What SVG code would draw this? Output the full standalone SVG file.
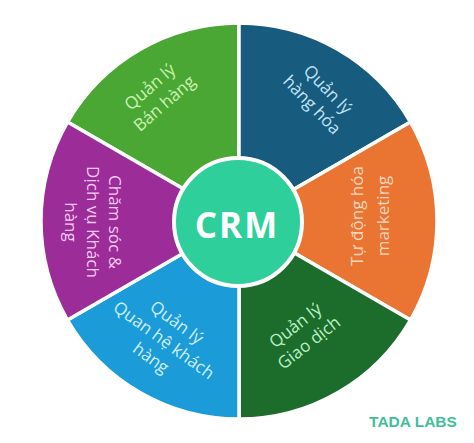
<svg xmlns="http://www.w3.org/2000/svg" width="474" height="443" viewBox="0 0 474 443">
<style>
.seg{stroke:#ffffff;stroke-width:3.5;stroke-linejoin:round}
.lbl{font-family:"Open Sans","Liberation Sans",sans-serif;font-size:17px;text-anchor:middle}
</style>
<rect width="474" height="443" fill="#ffffff"/>
<g id="connectors"></g>
<g id="seg-banhang">
<path class="seg" fill="#4ba733" d="M239,221 L67.5,122 A198,198 0 0 1 239,23 Z"/>
<g transform="translate(157,95) rotate(-41)" class="lbl" fill="#caf2b2">
<text x="0" y="-5">Quản lý</text>
<text x="0" y="17">Bán hàng</text>
</g>
</g>
<g id="seg-hanghoa">
<path class="seg" fill="#175b7f" d="M239,221 L239,23 A198,198 0 0 1 410.5,122 Z"/>
<g transform="translate(320,97) rotate(46)" class="lbl" fill="#c0e4f5">
<text x="0" y="-5">Quản lý</text>
<text x="0" y="17">hàng hóa</text>
</g>
</g>
<g id="seg-marketing">
<path class="seg" fill="#ea7431" d="M239,221 L410.5,122 A198,198 0 0 1 410.5,320 Z"/>
<g transform="translate(370,216) rotate(-90)" class="lbl" fill="#fbd7be">
<text x="0" y="-7">Tự động hóa</text>
<text x="0" y="19">marketing</text>
</g>
</g>
<g id="seg-giaodich">
<path class="seg" fill="#1c6d2b" d="M239,221 L410.5,320 A198,198 0 0 1 239,419 Z"/>
<g transform="translate(302,334) rotate(-38)" class="lbl" fill="#b8f0c6">
<text x="0" y="-5">Quản lý</text>
<text x="0" y="17">Giao dịch</text>
</g>
</g>
<g id="seg-quanhe">
<path class="seg" fill="#1b9bd7" d="M239,221 L239,419 A198,198 0 0 1 67.5,320 Z"/>
<g transform="translate(164,340) rotate(36)" class="lbl" fill="#cdeefa">
<text x="0" y="-16">Quản lý</text>
<text x="0" y="6">Quan hệ khách</text>
<text x="0" y="28">hàng</text>
</g>
</g>
<g id="seg-chamsoc">
<path class="seg" fill="#9c2c98" d="M239,221 L67.5,320 A198,198 0 0 1 67.5,122 Z"/>
<g transform="translate(93,222) rotate(90)" class="lbl" fill="#f5cbf2">
<text x="0" y="-16">Chăm sóc &amp;</text>
<text x="0" y="6">Dịch vụ Khách</text>
<text x="0" y="28">hàng</text>
</g>
</g>
<g id="crm">
<circle cx="238" cy="222" r="64" fill="#2ecf9b" stroke="#ffffff" stroke-width="4"/>
<text x="237" y="238" font-family="Open Sans, Liberation Sans, sans-serif" font-size="35" font-weight="bold" fill="#ffffff" text-anchor="middle" letter-spacing="2">CRM</text>
</g>
<g id="brand">
<text x="413" y="427" font-family="Liberation Sans, Arial, sans-serif" font-size="15.5" font-weight="bold" fill="#3fbf98" text-anchor="middle">TADA LABS</text>
</g>
</svg>
